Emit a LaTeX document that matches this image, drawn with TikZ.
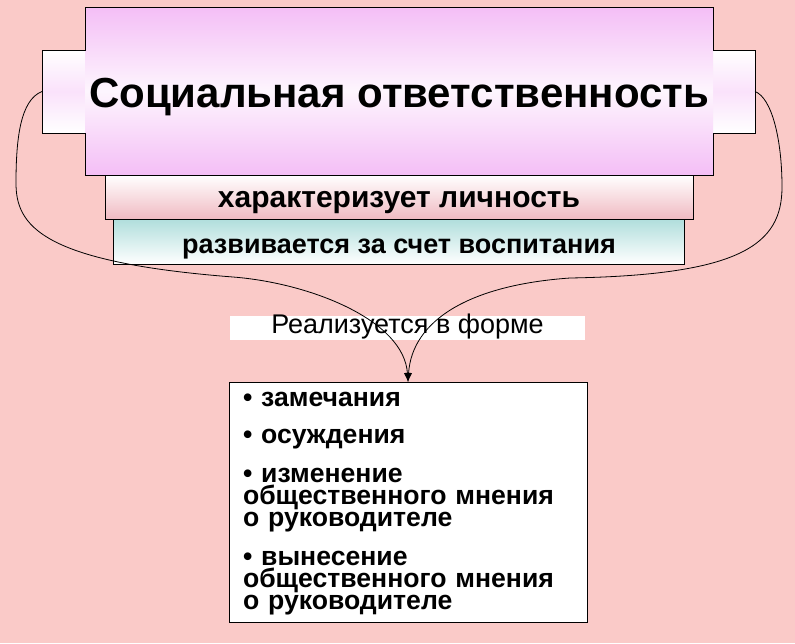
\documentclass[tikz,border=0pt]{standalone}
\usepackage{fontspec}
\setmainfont{Liberation Sans}
\usetikzlibrary{positioning,arrows.meta}
\definecolor{bgpink}{RGB}{250,202,200}
\definecolor{lilac}{RGB}{244,190,246}
\definecolor{rosy}{RGB}{240,186,194}
\definecolor{aqua}{RGB}{176,222,220}

\begin{document}
\begin{tikzpicture}[x=1pt, y=-1pt,
    every node/.style = {inner sep=0pt, outer sep=0pt},
    titlebox/.style = {minimum width=628pt, minimum height=168pt,
      top color=lilac, bottom color=lilac, middle color=white!85!lilac,
      font=\bfseries\fontsize{42}{44}\selectfont},
    titleband/.style = {minimum width=713pt, minimum height=83pt,
      top color=white, bottom color=white, middle color=lilac!45},
    strip/.style = {draw, line width=1pt},
    link/.style = {line width=0.8pt, -{Latex[length=9pt,width=7pt]}}]
  \fill[bgpink] (0,0) rectangle (795,643);
  % title cross
  \node[titleband] (band) at (398.5,91.5) {};
  \node[titlebox, text height=32pt, text depth=0pt] (title) at (399,91) {Социальная ответственность};
  \draw[line width=1pt] (title.north west) -- (title.north east)
    -- (title.east |- band.north) -- (band.north east) -- (band.south east)
    -- (title.east |- band.south) -- (title.south east) -- (title.south west)
    -- (title.west |- band.south) -- (band.south west) -- (band.north west)
    -- (title.west |- band.north) -- cycle;
  \node[strip, minimum width=588pt, text height=32pt, text depth=12pt,
    font=\bfseries\fontsize{30}{32}\selectfont,
    top color=white, bottom color=rosy, below=0pt of title] (trait) {характеризует личность};
  \node[strip, minimum width=571pt, text height=34pt, text depth=11pt,
    font=\bfseries\fontsize{27}{30}\selectfont,
    top color=aqua, bottom color=white, below=0pt of trait] (upbringing) {развивается за счет воспитания};
  % forms
  \node[fill=white, minimum width=355pt, text height=17pt, text depth=7pt,
    font=\fontsize{27}{30}\selectfont] (form) at (407.5,328) {Реализуется в форме};
  \node[draw, fill=white, line width=1pt, minimum width=358pt,
    text width=330pt, text height=24pt, text depth=216pt, align=left,
    font=\bfseries\fontsize{26.6}{22}\selectfont] (forms) at (408,382) [anchor=north]
    {• замечания\\[15pt]
     • осуждения\\[17pt]
     • изменение\\общественного мнения\\о руководителе\\[17pt]
     • вынесение\\общественного мнения\\о руководителе};
  \draw[link] (band.west) .. controls (20,100) and (16,140) .. (16,183)
    .. controls (16,225) and (40,262) .. (233,277)
    .. controls (310,283) and (404,320) .. (forms.north);
  \draw[link] (band.east) .. controls (772,98) and (782,140) .. (782,187)
    .. controls (782,245) and (740,275) .. (570,278)
    .. controls (470,285) and (412,320) .. (forms.north);
\end{tikzpicture}
\end{document}
